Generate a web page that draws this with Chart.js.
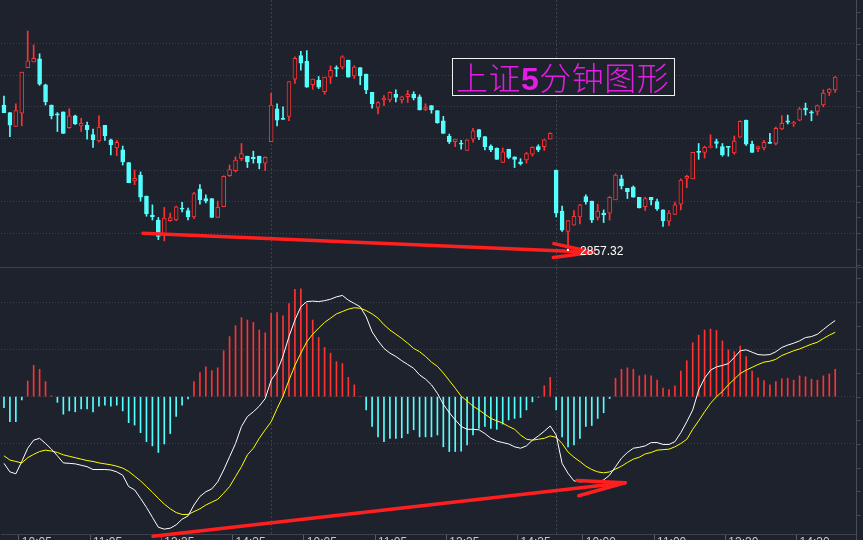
<!DOCTYPE html>
<html>
<head>
<meta charset="utf-8">
<script src="https://cdn.jsdelivr.net/npm/chart.js@4.4.1/dist/chart.umd.min.js"></script>
<style>
  html, body { margin: 0; padding: 0; background: #1e222d; overflow: hidden; width: 863px; height: 540px; }
  #wrap { position: relative; width: 863px; height: 540px; overflow: hidden; }
  #kline { position: absolute; left: 0; top: 0; }
  #macd { position: absolute; left: 0; top: 268px; }
  #title {
    position: absolute; left: 452px; top: 58px; width: 223px; height: 38px;
    box-sizing: border-box; border: 1px solid #f0f0f0; background: #1e222d;
    color: #e31ee3; font-family: "Noto Sans CJK SC"; font-weight: 300;
    font-size: 32px; line-height: 34px; padding-left: 3px; letter-spacing: 0.5px; white-space: nowrap;
  }
  #title b { font-family: "Liberation Sans", Arial; font-weight: bold; }
</style>
</head>
<body>
<div id="wrap">
  <canvas id="kline" width="863" height="268"></canvas>
  <canvas id="macd" width="863" height="286"></canvas>
  <div id="title">上证<b>5</b>分钟图形</div>
</div>
<script>
// ===== DATA (5-minute bars, three sessions) =====
const open = [2880.3,2879.1,2876.9,2879.0,2886.2,2887.1,2887.6,2883.5,2880.3,2878.9,
  2879.2,2876.7,2878.6,2877.0,2877.1,2875.6,2874.6,2877.1,2874.8,2873.5,
  2873.2,2871.2,2868.3,2869.2,2865.9,2862.9,2862.1,2859.7,2862.0,2862.1,
  2864.0,2863.6,2862.6,2867.0,2865.5,2865.5,2862.5,2864.2,2869.1,2869.9,
  2871.8,2872.2,2872.0,2872.2,2871.1,2874.5,2879.7,2878.2,2878.5,2884.4,
  2888.1,2887.2,2883.5,2884.2,2882.4,2884.7,2886.2,2886.3,2887.4,2884.9,
  2886.2,2885.2,2882.3,2879.9,2881.1,2881.1,2882.0,2881.1,2881.6,2882.0,
  2881.6,2879.6,2880.2,2879.4,2877.8,2875.4,2874.5,2874.2,2873.1,2874.9,
  2876.4,2875.3,2873.8,2873.5,2871.2,2873.3,2872.1,2871.3,2871.6,2872.5,
  2873.7,2873.7,2874.9,2870.0,2863.5,2860.3,2861.3,2862.6,2865.8,2865.1,
  2862.5,2863.2,2863.2,2865.3,2868.6,2867.1,2867.3,2865.7,2864.2,2865.7,
  2865.0,2863.7,2861.9,2863.0,2864.6,2868.7,2868.6,2872.9,2872.8,2873.6,
  2874.5,2873.7,2873.7,2872.7,2875.2,2877.9,2874.1,2873.4,2873.5,2874.4,
  2874.2,2876.5,2877.8,2877.3,2877.9,2879.8,2879.2,2879.3,2880.3,2882.3,
  2882.7];
const high = [2881.7,2879.1,2880.5,2885.5,2892.0,2889.8,2888.4,2883.6,2880.3,2879.1,
  2879.2,2879.7,2878.7,2878.2,2877.6,2876.5,2878.6,2877.1,2874.9,2874.7,
  2873.8,2871.2,2870.0,2869.7,2865.9,2864.5,2862.5,2864.1,2863.2,2864.3,
  2864.9,2864.0,2866.5,2867.7,2866.1,2865.5,2865.1,2869.1,2870.8,2872.1,
  2874.2,2872.2,2873.0,2872.2,2872.1,2882.2,2880.5,2880.0,2884.0,2887.9,
  2888.8,2888.9,2884.4,2884.8,2884.7,2886.5,2886.5,2888.1,2887.4,2886.5,
  2886.2,2885.2,2882.3,2880.8,2881.8,2882.4,2882.7,2881.7,2882.6,2882.4,
  2881.9,2880.5,2880.2,2879.4,2878.5,2875.7,2874.9,2874.7,2874.8,2876.6,
  2876.4,2875.3,2874.0,2873.5,2873.5,2873.3,2872.1,2871.8,2872.8,2873.7,
  2874.0,2874.9,2875.9,2870.0,2864.3,2862.0,2863.6,2864.6,2866.1,2865.1,
  2864.6,2863.7,2865.8,2869.4,2869.2,2867.1,2867.5,2865.7,2865.7,2865.7,
  2865.4,2863.7,2863.6,2864.9,2868.6,2869.2,2872.8,2874.2,2873.8,2875.6,
  2874.9,2874.2,2873.7,2875.4,2877.8,2877.9,2874.6,2873.7,2874.7,2875.8,
  2876.8,2878.6,2878.7,2877.7,2879.9,2880.6,2879.4,2880.3,2882.7,2882.9,
  2884.8];
const low = [2879.1,2875.3,2876.9,2877.0,2886.2,2887.1,2883.4,2880.3,2878.1,2876.1,
  2875.8,2876.6,2877.2,2876.1,2874.9,2873.6,2874.4,2874.7,2872.4,2872.3,
  2870.8,2868.0,2867.7,2865.1,2862.7,2862.1,2859.0,2858.8,2861.9,2862.0,
  2863.4,2862.1,2862.3,2864.6,2864.8,2862.5,2862.5,2864.2,2869.0,2869.7,
  2871.5,2870.4,2871.1,2870.2,2869.9,2874.5,2877.0,2878.0,2877.8,2883.7,
  2885.8,2883.1,2882.8,2882.9,2882.0,2883.7,2884.8,2886.0,2884.7,2884.5,
  2883.5,2882.1,2879.8,2878.9,2880.2,2880.8,2880.8,2880.6,2880.7,2881.1,
  2879.5,2879.4,2879.0,2877.4,2875.8,2874.2,2873.7,2873.3,2873.1,2874.4,
  2874.8,2873.2,2872.9,2871.7,2871.2,2871.8,2870.4,2870.8,2871.1,2872.2,
  2872.9,2873.1,2874.9,2862.6,2860.3,2857.32,2861.3,2861.5,2864.6,2861.7,
  2862.1,2861.7,2862.1,2865.3,2867.0,2865.5,2865.7,2864.0,2863.6,2864.5,
  2863.6,2861.1,2861.2,2863.0,2863.7,2867.2,2868.6,2871.7,2871.9,2873.5,
  2873.5,2872.2,2872.2,2872.5,2875.2,2873.9,2872.8,2872.9,2873.2,2874.2,
  2874.0,2876.4,2877.3,2876.9,2877.8,2878.7,2877.8,2878.7,2880.0,2881.8,
  2882.3];
const close = [2879.1,2877.1,2879.4,2885.5,2887.3,2887.7,2883.6,2880.8,2878.6,2878.7,
  2875.8,2878.6,2877.3,2877.4,2876.4,2874.8,2876.8,2875.4,2874.0,2874.4,
  2871.3,2868.0,2868.7,2865.7,2863.1,2862.6,2859.5,2862.4,2862.5,2864.2,
  2863.8,2862.6,2866.3,2865.3,2865.1,2862.5,2864.1,2869.0,2870.1,2871.6,
  2872.6,2871.3,2871.8,2871.1,2872.0,2880.3,2877.9,2878.0,2884.0,2887.7,
  2886.9,2883.1,2884.4,2883.1,2884.7,2885.8,2886.0,2887.9,2884.7,2886.3,
  2884.9,2882.7,2880.5,2880.7,2881.4,2882.3,2881.5,2881.6,2882.0,2881.4,
  2879.5,2879.9,2879.5,2877.5,2875.8,2874.5,2874.9,2874.1,2874.8,2876.2,
  2875.2,2873.7,2873.2,2871.7,2872.9,2872.0,2871.7,2871.0,2872.6,2873.6,
  2873.2,2874.8,2875.8,2863.2,2860.5,2862.0,2862.7,2864.5,2865.0,2862.1,
  2863.5,2862.9,2865.7,2869.2,2867.5,2866.6,2865.7,2864.0,2865.5,2865.3,
  2863.9,2862.0,2863.2,2864.5,2868.4,2869.0,2872.8,2872.8,2873.6,2873.7,
  2874.2,2872.4,2873.6,2874.6,2877.7,2874.1,2872.8,2873.7,2874.4,2874.2,
  2876.6,2877.4,2877.6,2877.5,2879.7,2879.5,2879.0,2880.2,2882.2,2882.8,
  2884.7];

const macdBar = [-0.23,-0.53,-0.53,-0.07,0.33,0.66,0.58,0.32,0.02,-0.12,
  -0.37,-0.30,-0.32,-0.26,-0.26,-0.32,-0.20,-0.18,-0.20,-0.18,
  -0.30,-0.55,-0.60,-0.76,-0.95,-1.04,-1.18,-1.00,-0.78,-0.42,
  -0.18,-0.05,0.32,0.51,0.63,0.55,0.61,0.97,1.27,1.50,
  1.67,1.62,1.57,1.41,1.35,1.76,1.78,1.71,1.97,2.27,
  2.28,1.97,1.62,1.25,1.04,0.92,0.74,0.70,0.41,0.25,
  0.01,-0.28,-0.63,-0.85,-0.95,-0.88,-0.88,-0.87,-0.78,-0.70,
  -0.85,-0.85,-0.85,-0.81,-1.06,-1.16,-1.16,-1.15,-1.02,-0.81,
  -0.67,-0.63,-0.67,-0.69,-0.58,-0.49,-0.46,-0.44,-0.28,-0.11,
  -0.01,0.23,0.41,-0.28,-0.85,-1.06,-1.02,-0.88,-0.63,-0.61,
  -0.46,-0.34,-0.04,0.39,0.58,0.61,0.58,0.44,0.46,0.44,
  0.35,0.18,0.15,0.23,0.54,0.76,1.14,1.30,1.41,1.43,
  1.40,1.18,0.99,0.95,1.07,0.85,0.54,0.40,0.34,0.25,
  0.32,0.38,0.39,0.35,0.44,0.42,0.37,0.35,0.44,0.48,
  0.58];
const dif = [-1.41,-1.59,-1.63,-1.37,-1.09,-0.92,-0.88,-0.99,-1.11,-1.25,
  -1.40,-1.41,-1.42,-1.45,-1.48,-1.54,-1.54,-1.54,-1.55,-1.59,
  -1.66,-1.90,-1.97,-2.15,-2.34,-2.55,-2.76,-2.80,-2.78,-2.71,
  -2.59,-2.52,-2.29,-2.11,-2.01,-1.95,-1.80,-1.55,-1.27,-0.99,
  -0.63,-0.42,-0.32,-0.20,-0.04,0.35,0.53,0.86,1.27,1.62,
  1.90,2.01,2.02,2.01,2.03,2.06,2.11,2.14,2.04,1.97,
  1.90,1.69,1.37,1.18,1.02,0.92,0.85,0.76,0.68,0.60,
  0.46,0.37,0.25,0.07,-0.16,-0.34,-0.49,-0.63,-0.69,-0.69,
  -0.70,-0.78,-0.88,-0.94,-0.97,-1.00,-1.06,-1.09,-1.04,-0.92,
  -0.83,-0.73,-0.62,-0.81,-1.41,-1.62,-1.78,-1.80,-1.79,-1.79,
  -1.80,-1.76,-1.66,-1.48,-1.30,-1.18,-1.09,-1.07,-1.04,-0.97,
  -0.97,-1.01,-1.01,-0.95,-0.76,-0.53,-0.28,0.14,0.39,0.56,
  0.63,0.66,0.70,0.83,0.97,0.99,0.94,0.89,0.88,0.89,
  0.95,1.04,1.09,1.13,1.18,1.25,1.27,1.32,1.42,1.52,
  1.61];
const dea = [-1.25,-1.34,-1.37,-1.40,-1.29,-1.22,-1.16,-1.13,-1.15,-1.18,
  -1.23,-1.26,-1.29,-1.32,-1.35,-1.37,-1.40,-1.42,-1.44,-1.47,
  -1.51,-1.58,-1.68,-1.78,-1.90,-2.02,-2.15,-2.27,-2.37,-2.45,
  -2.49,-2.49,-2.43,-2.37,-2.29,-2.23,-2.17,-2.04,-1.90,-1.69,
  -1.48,-1.23,-1.09,-0.88,-0.70,-0.53,-0.25,0.01,0.35,0.66,
  0.92,1.16,1.32,1.45,1.57,1.66,1.75,1.80,1.85,1.88,
  1.87,1.82,1.75,1.66,1.52,1.41,1.32,1.23,1.13,1.02,
  0.95,0.85,0.73,0.64,0.50,0.34,0.18,0.01,-0.09,-0.20,
  -0.28,-0.37,-0.46,-0.51,-0.56,-0.63,-0.69,-0.81,-0.90,-0.92,
  -0.90,-0.88,-0.83,-0.86,-0.99,-1.17,-1.28,-1.37,-1.47,-1.54,
  -1.59,-1.61,-1.59,-1.53,-1.47,-1.39,-1.32,-1.28,-1.21,-1.18,
  -1.13,-1.12,-1.11,-1.06,-0.99,-0.90,-0.69,-0.51,-0.32,-0.14,
  0.00,0.11,0.25,0.37,0.49,0.56,0.62,0.68,0.73,0.75,
  0.79,0.87,0.92,0.97,1.01,1.06,1.11,1.15,1.23,1.30,
  1.36];

// time axis: only every 12th bar gets a label
const tickIndex = [3, 15, 27, 39, 51, 63, 75, 87, 98, 110, 122, 134];
const tickText = ["10:05","11:05","13:35","14:35","10:05","11:05","13:35","14:35","10:00","11:00","13:30","14:30"];
const dayStart = [45, 93];        // first bar of each new session
const lowIndex = 95;
const lowLabel = "2857.32";
// hand drawn divergence arrows: [barIndex, value] start -> tip
const arrowTop = [[23.4, 2860.0], [99.2, 2857.0]];
const arrowBottom = [[25.1, -2.95], [104.6, -1.82]];

const BG = "#1e222d", RED = "#ff3232", CYAN = "#54ffff", GRID = "#3c414d", ARROW = "#ff1f1f";
const N = 144;
const labels = Array.from({ length: N }, (_, i) => {
  const k = tickIndex.indexOf(i);
  return k >= 0 ? tickText[k] : "";
});
const up = open.map((o, i) => close[i] >= o);

function drawArrow(ctx, p0, p1, head, spread) {
  ctx.save();
  ctx.strokeStyle = ARROW;
  ctx.lineWidth = 3.5;
  ctx.lineCap = "round";
  ctx.setLineDash([]);
  ctx.beginPath(); ctx.moveTo(p0.x, p0.y); ctx.lineTo(p1.x, p1.y); ctx.stroke();
  const ang = Math.atan2(p1.y - p0.y, p1.x - p0.x);
  [-spread, spread].forEach(s => {
    ctx.beginPath();
    ctx.moveTo(p1.x, p1.y);
    ctx.lineTo(p1.x - head * Math.cos(ang + s), p1.y - head * Math.sin(ang + s));
    ctx.stroke();
  });
  ctx.restore();
}

function drawFrame(chart, step) {
  const { ctx, chartArea: a, scales: { x, y } } = chart;
  ctx.save();
  ctx.strokeStyle = GRID;
  ctx.lineWidth = 1;
  ctx.setLineDash([2, 2]);
  dayStart.forEach(d => {
    const px = Math.round(x.getPixelForValue(d)) + 0.5;
    ctx.beginPath(); ctx.moveTo(px, a.top); ctx.lineTo(px, a.bottom); ctx.stroke();
  });
  ctx.setLineDash([]);
  // right axis line with little ticks
  ctx.strokeStyle = "#474c58";
  const rx = Math.round(a.right) + 0.5;
  ctx.beginPath(); ctx.moveTo(rx, 0); ctx.lineTo(rx, chart.height); ctx.stroke();
  for (let v = Math.ceil(y.min / step) * step; v <= y.max; v += step) {
    const py = Math.round(y.getPixelForValue(v)) + 0.5;
    ctx.beginPath(); ctx.moveTo(rx, py); ctx.lineTo(rx + 4, py); ctx.stroke();
  }
  ctx.restore();
}

// ===== K-LINE PANEL =====
const klineDecor = {
  id: "klineDecor",
  beforeDatasetsDraw(chart) { drawFrame(chart, 2.5); },
  afterDatasetsDraw(chart) {
    const { ctx, scales: { x, y } } = chart;
    ctx.save();
    ctx.strokeStyle = "#3c414d";
    ctx.beginPath(); ctx.moveTo(0, 267.5); ctx.lineTo(chart.width, 267.5); ctx.stroke();
    drawArrow(ctx,
      { x: x.getPixelForValue(arrowTop[0][0]), y: y.getPixelForValue(arrowTop[0][1]) },
      { x: x.getPixelForValue(arrowTop[1][0]), y: y.getPixelForValue(arrowTop[1][1]) }, 40, 0.175);
    const lx = x.getPixelForValue(lowIndex), ly = y.getPixelForValue(low[lowIndex]);
    ctx.fillStyle = "#ffffff";
    ctx.fillRect(Math.round(lx) - 1, Math.round(ly) - 1, 2, 2);
    ctx.font = "12px 'Liberation Sans', Arial";
    ctx.textBaseline = "middle";
    ctx.fillText(lowLabel, lx + 12, ly + 1.5);
    ctx.restore();
  }
};

new Chart(document.getElementById("kline"), {
  type: "bar",
  data: {
    labels: labels,
    datasets: [
      {
        label: "body",
        data: open.map((o, i) => [o, close[i]]),
        backgroundColor: up.map(u => u ? BG : CYAN),
        borderColor: up.map(u => u ? RED : CYAN),
        borderWidth: 1,
        borderSkipped: false,
        barThickness: 4,
        minBarLength: 1,
        grouped: false,
        order: 1
      },
      {
        label: "wick",
        data: low.map((l, i) => [l, high[i]]),
        backgroundColor: up.map(u => u ? RED : CYAN),
        barThickness: 1,
        grouped: false,
        order: 2
      }
    ]
  },
  options: {
    responsive: false,
    animation: false,
    events: [],
    layout: { padding: { left: 1, right: 7, top: 0, bottom: 0 } },
    plugins: { legend: { display: false }, tooltip: { enabled: false } },
    scales: {
      x: { display: false, offset: true },
      y: {
        position: "right",
        min: 2854.51, max: 2896.91,
        ticks: { display: false, stepSize: 5 },
        grid: { color: GRID, drawTicks: false },
        border: { display: false, dash: [1, 2] },
        afterBuildTicks: s => { s.ticks = s.ticks.filter(t => t.value >= 2860 && t.value <= 2895); }
      }
    }
  },
  plugins: [klineDecor]
});

// ===== MACD PANEL =====
const macdDecor = {
  id: "macdDecor",
  beforeDatasetsDraw(chart) { drawFrame(chart, 0.5); },
  afterDatasetsDraw(chart) {
    const { ctx, scales: { x, y } } = chart;
    drawArrow(ctx,
      { x: x.getPixelForValue(arrowBottom[0][0]), y: y.getPixelForValue(arrowBottom[0][1]) },
      { x: x.getPixelForValue(arrowBottom[1][0]), y: y.getPixelForValue(arrowBottom[1][1]) }, 48, 0.16);
  }
};

new Chart(document.getElementById("macd"), {
  type: "bar",
  data: {
    labels: labels,
    datasets: [
      { type: "line", label: "DIF", data: dif, borderColor: "#ffffff", borderWidth: 1, pointRadius: 0, tension: 0, order: 1 },
      { type: "line", label: "DEA", data: dea, borderColor: "#ffff00", borderWidth: 1, pointRadius: 0, tension: 0, order: 2 },
      { label: "MACD", data: macdBar, backgroundColor: macdBar.map(v => v >= 0 ? RED : CYAN), barThickness: 1, order: 3 }
    ]
  },
  options: {
    responsive: false,
    animation: false,
    events: [],
    layout: { padding: { left: 1, right: 7, top: 0, bottom: 0 } },
    plugins: { legend: { display: false }, tooltip: { enabled: false } },
    scales: {
      x: {
        offset: true,
        grid: {
          offset: true, drawOnChartArea: false, drawTicks: true, tickLength: 6,
          color: c => tickIndex.includes(c.index) ? "#5a5f6a" : "rgba(0,0,0,0)"
        },
        border: { display: true, color: "#3c414d" },
        ticks: {
          autoSkip: false, maxRotation: 0, minRotation: 0, align: "start", padding: -5,
          color: "#c8c8c8", font: { family: "Liberation Sans", size: 12 }
        },
        afterFit: s => { s.height = 20; }
      },
      y: {
        position: "right",
        min: -2.903, max: 2.72,
        ticks: { display: false, stepSize: 1 },
        grid: { color: GRID, drawTicks: false },
        border: { display: false, dash: [1, 2] },
        afterBuildTicks: s => { s.ticks = s.ticks.filter(t => t.value >= -1 && t.value <= 2); }
      }
    }
  },
  plugins: [macdDecor]
});
</script>
</body>
</html>
